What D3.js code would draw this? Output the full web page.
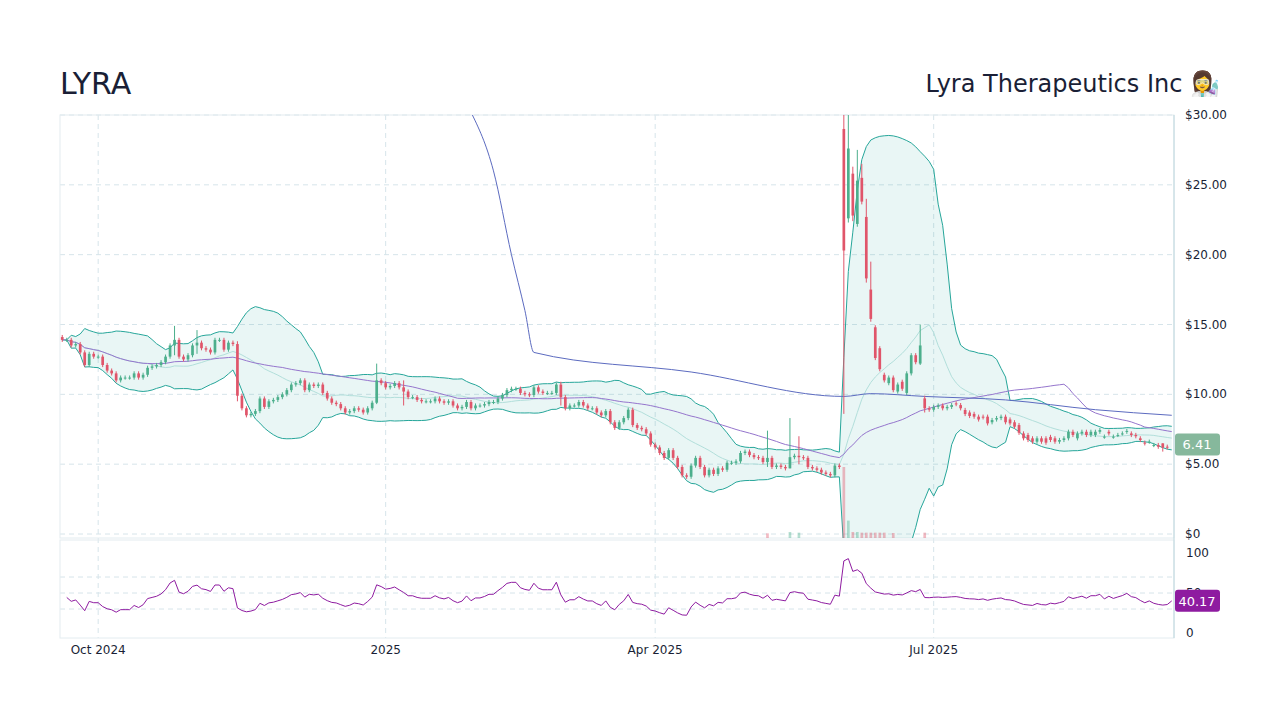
<!DOCTYPE html>
<html><head><meta charset="utf-8">
<script src="https://cdn.jsdelivr.net/npm/d3@7"></script>
<style>body{margin:0;background:#fff;font-family:"DejaVu Sans",sans-serif}</style>
</head><body>
<svg width="1280" height="720"></svg>
<script>
// closes before the spike (bars 0..173), open = previous close
const closesA = [13.9,13.9,13.5,13.6,13.0,12.1,12.9,12.7,12.7,12.1,11.7,11.5,11.0,11.2,11.2,11.2,11.5,11.2,11.4,11.9,12.0,12.1,12.3,12.7,13.5,13.9,12.7,12.5,12.8,13.5,13.7,13.3,13.2,13.0,13.9,13.9,13.2,13.7,13.6,9.9,9.0,8.5,8.6,8.8,9.7,9.1,9.5,9.6,9.8,10.0,10.3,10.7,10.8,11.0,10.3,10.7,10.6,10.7,10.1,9.7,9.4,9.3,9.0,8.7,8.8,9.0,8.9,8.7,9.0,9.4,11.0,10.8,10.5,10.6,10.8,10.5,10.2,9.8,9.8,9.6,9.5,9.5,9.5,9.7,9.5,9.4,9.5,9.2,9.0,
  9.1,9.45,9.0,9.2,9.2,9.3,9.45,9.45,9.7,9.95,10.3,10.4,10.4,10.1,10.0,9.95,10.5,10.2,10.1,10.1,10.1,10.7,9.8,9.0,9.2,9.2,9.45,9.2,9.0,9.0,8.7,8.5,8.8,8.0,7.6,8.0,8.3,8.9,7.8,7.6,7.5,7.2,6.4,6.2,5.8,5.45,6.0,5.45,4.8,4.2,4.1,4.9,5.45,4.8,4.2,4.6,4.3,4.7,4.6,5.1,5.1,5.2,5.8,5.9,5.65,5.5,5.45,5.15,5.45,4.8,4.9,4.8,4.7,5.5,5.6,5.5,5.45,4.8,4.7,4.6,4.4,4.3,4.2,4.9,4.8];
// bars 174..247 as open/close pairs
const opensB  = [29,22.6,25.8,22.2,25.5,22.7,17.5,14.8,13.3,11.4,10.8,11.2,10.2,10.9,10.1,11.5,12.8,12.2,
  9.71,9.0,8.9,9.1,9.2,9.0,9.1,9.35,9.23,8.88,8.7,8.6,8.4,8.4,8.4,8.0,8.2,8.3,8.4,8.2,8.0,7.8,7.2,7.09,6.85,6.61,6.85,6.85,6.95,6.85,6.61,6.73,6.85,7.32,6.85,7.2,7.32,7.09,7.09,7.32,6.97,7.32,6.97,7.09,7.2,7.32,7.2,7.09,6.85,6.54,6.61,6.37,6.37,6.49,6.25];
const closesB = [20.3,27.6,22.8,25.3,23.8,18.3,15.4,12.6,11.8,11.0,11.2,10.3,10.7,10.4,11.5,12.8,12.3,13.5,
  9.0,8.9,9.1,9.2,9.0,9.1,9.23,9.3,9.0,8.59,8.45,8.4,8.2,8.35,7.92,8.16,8.3,8.4,8.0,7.92,7.68,7.25,6.85,6.73,6.61,6.85,6.61,6.54,6.73,6.61,6.73,6.85,7.32,7.09,7.2,7.32,7.09,7.32,7.32,7.44,6.97,7.2,6.97,7.09,7.2,7.38,7.09,7.0,6.73,6.49,6.61,6.37,6.25,6.18,6.21,6.41];
// notable wicks [bar, high, low]
const wicks = [[25,14.9,12.8],[30,14.6,12.9],[39,13.8,9.5],[70,12.2,9.3],[76,11.0,9.2],[111,10.9,9.2],[157,7.4,4.8],[162,8.3,4.7],[164,7.0,5.0],
  [174,31,8.6],[175,30.5,22.3],[176,26.3,22.4],[177,27.5,22.0],[178,26.5,23.6],[179,24,18.0],[180,19.5,15.2],[191,15,12.1],[192,9.9,8.7],[245,6.5,5.9]];
// 200-day average, sampled points [bar, value] (history before the window not shown)
const sma200Pts = [[91,30.2],[96,26],[100,20],[103,16],[105,13.0],[140,11.6],[174,9.85],[180,10.05],[192,9.85],[210,9.6],[230,8.9],[247,8.5]];
// volume (relative, 0..1) near the spike
const volPts = [[174,1.0,0],[175,0.2,1],[176,0.03,0],[177,0.03,1],[178,0.02,0],[179,0.02,0],[180,0.02,0],[181,0.02,0],[182,0.02,0],[183,0.02,0],[185,0.015,0],[192,0.02,0],[157,0.01,0],[162,0.03,1],[164,0.02,1]];
const monthTicks = [["2024-10","Oct 2024"],["2025-01","2025"],["2025-04","Apr 2025"],["2025-07","Jul 2025"]];
const priceTicks = [0,5,10,15,20,25,30];
const rsiTicks = [0,50,100];

const opens = closesA.map((c,i)=> i ? closesA[i-1] : 14.1).concat(opensB);
const closes = closesA.concat(closesB);
const N = closes.length;

// trading days
const hol = new Set(["2024-11-28","2024-12-25","2025-01-01","2025-01-09","2025-01-20","2025-02-17","2025-04-18","2025-05-26","2025-06-19","2025-07-04","2025-09-01"]);
const fmt = d3.timeFormat("%Y-%m-%d");
const dates = [];
for (let d = new Date(2024,8,19); dates.length < N; d = d3.timeDay.offset(d,1)) {
  if (d.getDay()===0 || d.getDay()===6 || hol.has(fmt(d))) continue;
  dates.push(new Date(d));
}

const bars = closes.map((c,i) => {
  const o = opens[i], w = wicks.find(k=>k[0]===i);
  return {i, o, c, h: w ? w[1] : Math.max(o,c)+0.15, l: w ? w[2] : Math.min(o,c)-0.15};
});

const sma = (n,i) => { const s = closes.slice(Math.max(0,i-n+1), i+1); return d3.mean(s); };
const sd = (n,i) => { const s = closes.slice(Math.max(0,i-n+1), i+1); return d3.deviation(s) || 0; };
const bb = bars.map(b => { const m = sma(20,b.i), s = sd(20,b.i); return {i:b.i, m, u:m+2*s, lo:m-2*s}; });
const s50 = bars.map(b => ({i:b.i, v: sma(50,b.i)}));

// RSI 14 (Wilder), seeded with balanced history
const rsi = [];
let ag = 0.12, al = 0.15;
for (let i=1;i<N;i++){
  const ch = closes[i]-closes[i-1], g = Math.max(ch,0), l = Math.max(-ch,0);
  ag = (ag*13+g)/14; al = (al*13+l)/14;
  rsi.push({i, v: al===0 ? 100 : 100 - 100/(1+ag/al)});
}

const svg = d3.select("svg");
const L = 60, R = 1174, pTop = 115, pBot = 538, rTop = 540, rBot = 638;
const x = d3.scaleLinear().domain([-0.5, N-0.5]).range([L, R]);
const y = d3.scaleLinear().domain([0,30]).range([534,115]);
const yr = d3.scaleLinear().domain([0,100]).range([633,553]);
const bw = (x(1)-x(0))*0.6;

svg.append("text").attr("x",60).attr("y",94).attr("font-size",30).attr("fill","#1a1f36").text("LYRA");
svg.append("text").attr("x",1220).attr("y",92).attr("text-anchor","end").attr("font-size",24).attr("fill","#1a1f36").text("Lyra Therapeutics Inc 👩‍🔬");

const defs = svg.append("defs");
defs.append("clipPath").attr("id","cp").append("rect").attr("x",L).attr("y",pTop).attr("width",R-L).attr("height",pBot-pTop);
defs.append("clipPath").attr("id","cr").append("rect").attr("x",L).attr("y",rTop).attr("width",R-L).attr("height",rBot-rTop);

// grid
const tickIdx = monthTicks.map(([m,t]) => ({t, i: dates.findIndex(d => fmt(d).slice(0,7)===m)}));
const grid = svg.append("g").attr("stroke","#d6e4ea").attr("stroke-dasharray","5,4");
grid.selectAll(".h").data(priceTicks).join("line").attr("x1",L).attr("x2",R).attr("y1",d=>y(d)).attr("y2",d=>y(d));
grid.selectAll(".r").data([30,50,70]).join("line").attr("x1",L).attr("x2",R).attr("y1",d=>yr(d)).attr("y2",d=>yr(d));
grid.selectAll(".v").data(tickIdx).join("line").attr("x1",d=>x(d.i)).attr("x2",d=>x(d.i)).attr("y1",pTop).attr("y2",rBot);

svg.append("rect").attr("x",L).attr("y",pTop).attr("width",R-L).attr("height",pBot-pTop).attr("fill","none").attr("stroke","#e3ecf0");
svg.append("rect").attr("x",L).attr("y",rTop).attr("width",R-L).attr("height",rBot-rTop).attr("fill","none").attr("stroke","#e3ecf0");
svg.append("line").attr("x1",R).attr("x2",R).attr("y1",pTop).attr("y2",rBot).attr("stroke","#bcd6dd");

const pg = svg.append("g").attr("clip-path","url(#cp)");
pg.append("path").datum(bb).attr("fill","rgba(38,166,154,0.1)")
  .attr("d", d3.area().x(d=>x(d.i)).y0(d=>y(d.lo)).y1(d=>y(d.u)));
const ln = (f) => d3.line().x(d=>x(d.i)).y(f);
pg.append("path").datum(bb).attr("fill","none").attr("stroke","#26a69a").attr("d", ln(d=>y(d.u)));
pg.append("path").datum(bb).attr("fill","none").attr("stroke","#26a69a").attr("d", ln(d=>y(d.lo)));
pg.append("path").datum(bb).attr("fill","none").attr("stroke","#b2dfdb").attr("d", ln(d=>y(d.m)));

// volume
pg.selectAll(".vol").data(volPts).join("rect")
  .attr("x",d=>x(d[0])-bw/2).attr("width",bw)
  .attr("y",d=>534-d[1]*67).attr("height",d=>d[1]*67+4)
  .attr("fill",d=>d[2] ? "rgba(76,175,140,0.4)" : "rgba(224,85,106,0.4)");

pg.append("path").datum(s50).attr("fill","none").attr("stroke","#9575cd").attr("d", ln(d=>y(d.v)));
pg.append("path").datum(sma200Pts).attr("fill","none").attr("stroke","#5c6bc0")
  .attr("d", d3.line().x(d=>x(d[0])).y(d=>y(d[1])).curve(d3.curveMonotoneX));

const up = "#4caf8c", dn = "#e0556a";
const cg = pg.selectAll(".c").data(bars).join("g");
cg.append("line").attr("x1",d=>x(d.i)).attr("x2",d=>x(d.i)).attr("y1",d=>y(d.h)).attr("y2",d=>y(d.l))
  .attr("stroke",d=>d.c>=d.o?up:dn);
cg.append("rect").attr("x",d=>x(d.i)-bw/2).attr("width",bw)
  .attr("y",d=>y(Math.max(d.o,d.c))).attr("height",d=>Math.max(1,Math.abs(y(d.o)-y(d.c))))
  .attr("fill",d=>d.c>=d.o?up:dn);

// RSI
svg.append("g").attr("clip-path","url(#cr)").append("path").datum(rsi).attr("fill","none").attr("stroke","#8e1ba0")
  .attr("d", d3.line().x(d=>x(d.i)).y(d=>yr(d.v)));

// axes
const ax = svg.append("g").attr("font-size",12).attr("fill","#1a1f36");
ax.selectAll(".pt").data(priceTicks).join("text").attr("x",1185).attr("y",d=>y(d)+4).text(d=> d ? "$"+d.toFixed(2) : "$0");
ax.selectAll(".rt").data(rsiTicks).join("text").attr("x",1186).attr("y",d=>yr(d)+4).text(d=>d);
ax.selectAll(".xt").data(tickIdx).join("text").attr("x",d=>x(d.i)).attr("y",654).attr("text-anchor","middle").text(d=>d.t);

// last value labels
const lastC = closes[N-1], lastR = rsi[rsi.length-1].v;
const lab = (yy, txt, col) => {
  svg.append("rect").attr("x",1175).attr("y",yy-11).attr("width",45).attr("height",22).attr("rx",3).attr("fill",col);
  svg.append("text").attr("x",1197).attr("y",yy+5).attr("text-anchor","middle").attr("font-size",13).attr("fill","#fff").text(txt);
};
lab(y(lastC), lastC.toFixed(2), "#86b89c");
lab(yr(lastR), lastR.toFixed(2), "#8e1ba0");
</script>
</body></html>
